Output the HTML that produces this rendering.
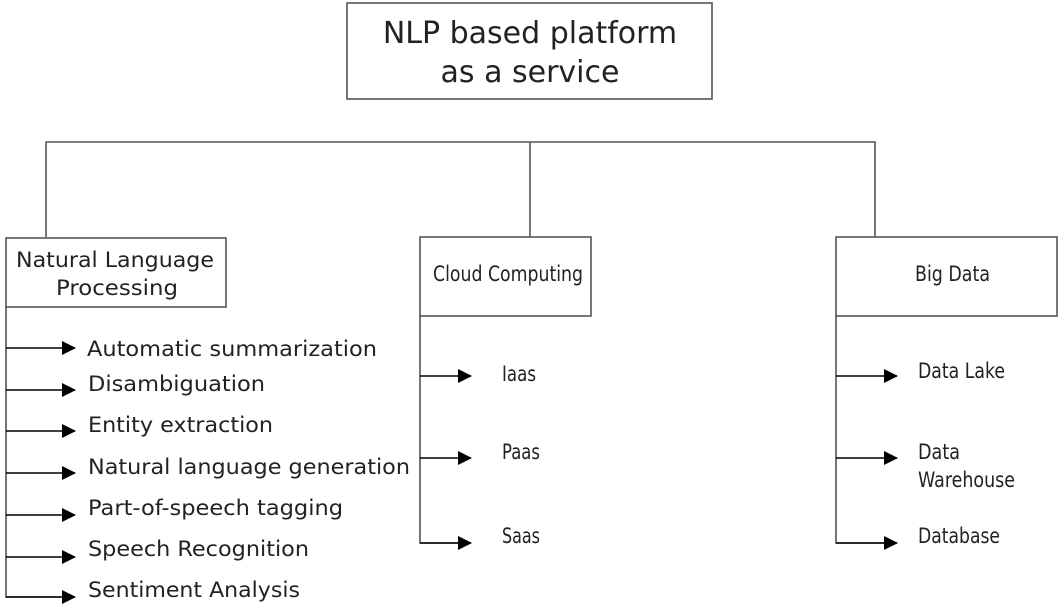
<!DOCTYPE html>
<html><head><style>html,body{margin:0;padding:0;background:#fff}svg{display:block}</style></head><body>
<svg width="1062" height="609" viewBox="0 0 1062 609" xmlns="http://www.w3.org/2000/svg" font-family="DejaVu Sans, Liberation Sans, sans-serif" fill="#222">
<defs><marker id="a" markerWidth="16" markerHeight="16" refX="13" refY="7" orient="auto" markerUnits="userSpaceOnUse"><path d="M0,0 L14,7 L0,14 z" fill="#000"/></marker></defs>
<g stroke="#555" stroke-width="1.6" fill="none">
<rect x="347" y="3" width="365" height="96"/>
<polyline points="46,237 46,142 875,142 875,237"/>
<line x1="530" y1="142" x2="530" y2="237"/>
<rect x="6" y="238" width="220" height="69"/>
<rect x="420" y="237" width="171" height="79"/>
<rect x="836" y="237" width="221" height="79"/>
<polyline points="6,307 6,597 66,597"/>
<polyline points="420,316 420,543 462,543"/>
<polyline points="836,316 836,543 888,543"/>
</g>
<g stroke="#000" stroke-width="1.6" marker-end="url(#a)">
<line x1="6" y1="348" x2="75" y2="348"/><line x1="6" y1="390" x2="75" y2="390"/><line x1="6" y1="431" x2="75" y2="431"/><line x1="6" y1="473" x2="75" y2="473"/><line x1="6" y1="515" x2="75" y2="515"/><line x1="6" y1="557" x2="75" y2="557"/><line x1="6" y1="597" x2="75" y2="597"/>
<line x1="420" y1="376" x2="471" y2="376"/><line x1="420" y1="458" x2="471" y2="458"/><line x1="420" y1="543" x2="471" y2="543"/>
<line x1="836" y1="376" x2="897" y2="376"/><line x1="836" y1="458" x2="897" y2="458"/><line x1="836" y1="543" x2="897" y2="543"/>
</g>
<g font-size="30" text-anchor="middle"><text x="530" y="43">NLP based platform</text><text x="530" y="82">as a service</text></g>
<g font-size="21">
<text x="16" y="267" textLength="198" lengthAdjust="spacingAndGlyphs">Natural Language</text>
<text x="56" y="295" textLength="122" lengthAdjust="spacingAndGlyphs">Processing</text>
<text x="433" y="281" textLength="150" lengthAdjust="spacingAndGlyphs">Cloud Computing</text>
<text x="915" y="281" textLength="75" lengthAdjust="spacingAndGlyphs">Big Data</text>
<text x="87" y="356" textLength="290" lengthAdjust="spacingAndGlyphs">Automatic summarization</text>
<text x="88" y="391" textLength="177" lengthAdjust="spacingAndGlyphs">Disambiguation</text>
<text x="88" y="432" textLength="185" lengthAdjust="spacingAndGlyphs">Entity extraction</text>
<text x="88" y="474" textLength="322" lengthAdjust="spacingAndGlyphs">Natural language generation</text>
<text x="88" y="515" textLength="255" lengthAdjust="spacingAndGlyphs">Part-of-speech tagging</text>
<text x="88" y="556" textLength="221" lengthAdjust="spacingAndGlyphs">Speech Recognition</text>
<text x="88" y="597" textLength="212" lengthAdjust="spacingAndGlyphs">Sentiment Analysis</text>
<text x="502" y="381" textLength="34" lengthAdjust="spacingAndGlyphs">Iaas</text>
<text x="502" y="459" textLength="38" lengthAdjust="spacingAndGlyphs">Paas</text>
<text x="502" y="543" textLength="38" lengthAdjust="spacingAndGlyphs">Saas</text>
<text x="918" y="378" textLength="87" lengthAdjust="spacingAndGlyphs">Data Lake</text>
<text x="918" y="459" textLength="42" lengthAdjust="spacingAndGlyphs">Data</text>
<text x="918" y="487" textLength="97" lengthAdjust="spacingAndGlyphs">Warehouse</text>
<text x="918" y="543" textLength="82" lengthAdjust="spacingAndGlyphs">Database</text>
</g>
</svg>
</body></html>
